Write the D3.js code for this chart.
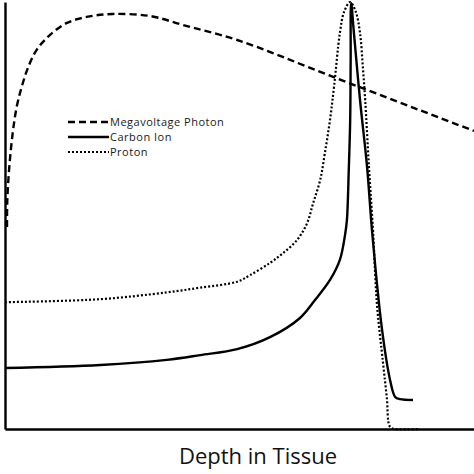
<!DOCTYPE html>
<html>
<head>
<meta charset="utf-8">
<script src="https://cdn.jsdelivr.net/npm/d3@7"></script>
<style>
  body { margin: 0; background: #fff; }
  svg { display: block; font-family: "Open Sans", "Noto Sans", sans-serif; }
</style>
</head>
<body>
<div id="chart"></div>
<script>
// depth in tissue (0-100) and relative dose (0-100)
var photonDepth = [0.43, 0.49, 0.92, 1.64, 2.49, 3.56, 4.97, 6.76, 9.6, 13.2, 17.4, 23.0, 31, 38, 49.5, 70.1, 100];
var photonDose  = [47.3, 53.6, 61.4, 69.3, 75.4, 80.1, 84.8, 88.8, 92.3, 95.1, 96.5, 97.2, 96.7, 94.6, 91.1, 82.4, 69.8];

var carbonDepth = [0, 20.3, 34.5, 41.6, 49.5, 56.5, 62.9, 66.1, 69.3, 71.4, 72.5, 72.9, 73.3, 73.6, 73.7, 73.8, 74.4, 75.7, 77.2, 78.3, 80.4, 82.1, 83.2, 84.2, 87.0];
var carbonDose  = [14.3, 15.0, 16.2, 17.3, 18.7, 21.5, 26.0, 30.2, 34.9, 39.6, 45.4, 48.9, 60.7, 72.4, 86.4, 99.8, 92.7, 77.0, 61.4, 45.9, 23.2, 11.5, 7.5, 7.0, 6.8];

var protonDepth = [0, 20.3, 34.5, 41.6, 49.5, 52.2, 56.5, 59.3, 62.3, 64.4, 65.7, 67.2, 68.2, 69.3, 70.2, 71.4, 72.3, 73.6, 74.8, 75.7, 76.3, 76.8, 77.6, 78.5, 79.3, 80.6, 81.4, 82.1, 83.2, 88.5];
var protonDose  = [29.7, 30.4, 32.0, 33.1, 34.5, 36.0, 38.9, 41.2, 44.3, 48.2, 52.9, 58.3, 64.6, 72.4, 80.6, 92.7, 97.7, 100, 97.7, 92.7, 84.8, 77.0, 61.4, 45.9, 29.3, 15.5, 7.5, 0.5, 0, 0];

var seriesNames = ["Megavoltage Photon", "Carbon Ion", "Proton"];
var xLabel = "Depth in Tissue";

var width = 474, height = 474;
var margin = { top: 2, right: 0, bottom: 45, left: 5 };

var svg = d3.select("#chart").append("svg")
    .attr("width", width)
    .attr("height", height);

var x = d3.scaleLinear().domain([0, 100]).range([margin.left, width - margin.right]);
var y = d3.scaleLinear().domain([0, 100]).range([height - margin.bottom, margin.top]);

function zip(a, b) {
    return a.map(function(d, i) { return [d, b[i]]; });
}

var series = [
    { name: seriesNames[0], data: zip(photonDepth, photonDose), dash: "7,4", w: 2.4 },
    { name: seriesNames[1], data: zip(carbonDepth, carbonDose), dash: null, w: 2.4 },
    { name: seriesNames[2], data: zip(protonDepth, protonDose), dash: "2,2", w: 2.2 }
];

var line = d3.line()
    .x(function(d) { return x(d[0]); })
    .y(function(d) { return y(d[1]); })
    .curve(d3.curveCatmullRom.alpha(0.5));

svg.selectAll("path.curve")
    .data(series)
    .enter()
    .append("path")
    .attr("class", "curve")
    .attr("d", function(d) { return line(d.data); })
    .attr("fill", "none")
    .attr("stroke", "#000")
    .attr("stroke-width", function(d) { return d.w; })
    .attr("stroke-dasharray", function(d) { return d.dash; });

// axes: plain lines, no ticks
svg.append("g")
    .attr("transform", "translate(0," + y(0) + ")")
    .call(d3.axisBottom(x).ticks(0).tickSizeOuter(0));
svg.append("g")
    .attr("transform", "translate(" + x(0) + ",0)")
    .call(d3.axisLeft(y).ticks(0).tickSizeOuter(0));
svg.selectAll(".domain").attr("stroke", "#000").attr("stroke-width", 2.4);

svg.append("text")
    .attr("x", 258)
    .attr("y", 464)
    .attr("text-anchor", "middle")
    .attr("font-size", 22)
    .attr("fill", "#111")
    .text(xLabel);

// legend
var legend = svg.append("g").attr("transform", "translate(68,122)");
var items = legend.selectAll("g")
    .data(series)
    .enter()
    .append("g")
    .attr("transform", function(d, i) { return "translate(0," + (i * 15) + ")"; });

items.append("line")
    .attr("x1", 0).attr("x2", 41)
    .attr("y1", 0).attr("y2", 0)
    .attr("stroke", "#000")
    .attr("stroke-width", function(d) { return d.w; })
    .attr("stroke-dasharray", function(d) { return d.dash; });

items.append("text")
    .attr("x", 42)
    .attr("y", 4.2)
    .attr("font-size", 11)
    .attr("letter-spacing", 0.5)
    .attr("fill", "#1a1a1a")
    .text(function(d) { return d.name; });
</script>
</body>
</html>
